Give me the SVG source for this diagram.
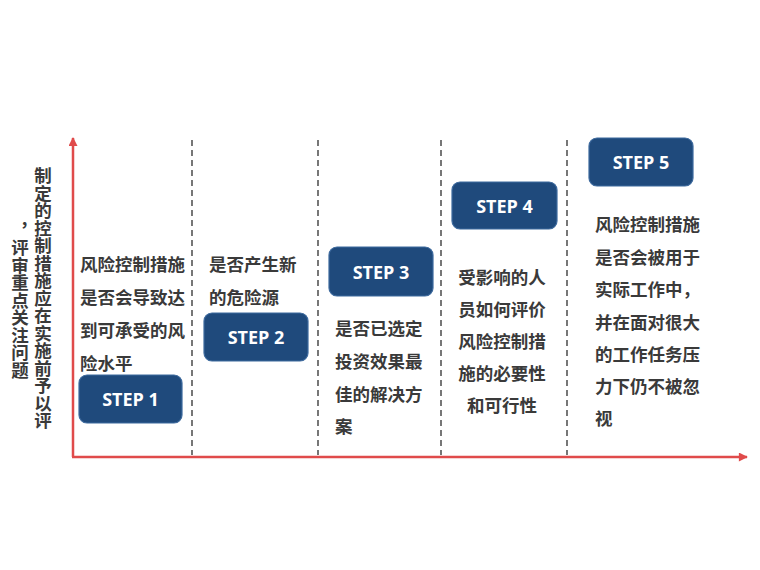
<svg xmlns="http://www.w3.org/2000/svg" width="760" height="570" viewBox="0 0 760 570">
<defs>
<marker id="arr" viewBox="0 0 10 10" refX="9" refY="5" markerWidth="10" markerHeight="9" orient="auto" markerUnits="userSpaceOnUse">
<path d="M0,0 L10,5 L0,10 z" fill="#e04b4b"/>
</marker>
<style>
.axis{stroke:#e04b4b;stroke-width:2.5;fill:none}
.dash{stroke:#555;stroke-width:1.6;stroke-dasharray:6 4;fill:none}
.box{fill:#1f4a7c;stroke:#3d6a9e;stroke-width:1.2}
.lbl{font-family:"Open Sans","Liberation Sans",sans-serif;font-weight:bold;font-size:18px;fill:#fff;text-anchor:middle;dominant-baseline:central}
.t{font-family:"Noto Sans CJK SC",sans-serif;font-weight:bold;font-size:17.5px;fill:#3a3a3a;dominant-baseline:central}
.c{text-anchor:middle}
.v{font-family:"Noto Sans CJK SC",sans-serif;font-weight:bold;font-size:17.5px;fill:#3a3a3a;writing-mode:vertical-rl;text-anchor:middle}
</style>
</defs>
<g id="connectors">
<line class="axis" x1="73" y1="457" x2="73" y2="138" marker-end="url(#arr)"/>
<line class="axis" x1="72" y1="457" x2="747" y2="457" marker-end="url(#arr)"/>
<line class="dash" x1="192" y1="140" x2="192" y2="455"/>
<line class="dash" x1="318" y1="140" x2="318" y2="455"/>
<line class="dash" x1="441" y1="140" x2="441" y2="455"/>
<line class="dash" x1="567" y1="140" x2="567" y2="455"/>
</g>
<g id="yaxis-label">
<text class="v" x="43" y="298">制定的控制措施应在实施前予以评</text>
<text class="v" x="20" y="300">，评审重点关注问题</text>
</g>
<g id="step1">
<rect class="box" x="79" y="375" width="103" height="48" rx="8"/>
<text class="lbl" x="130.5" y="399">STEP 1</text>
<text class="t" x="80" y="263">风险控制措施</text>
<text class="t" x="80" y="296">是否会导致达</text>
<text class="t" x="80" y="329">到可承受的风</text>
<text class="t" x="80" y="362">险水平</text>
</g>
<g id="step2">
<rect class="box" x="204" y="313" width="104" height="48" rx="8"/>
<text class="lbl" x="256" y="337">STEP 2</text>
<text class="t" x="209" y="263">是否产生新</text>
<text class="t" x="209" y="296">的危险源</text>
</g>
<g id="step3">
<rect class="box" x="329" y="247" width="104" height="49" rx="8"/>
<text class="lbl" x="381" y="271.5">STEP 3</text>
<text class="t" x="335" y="327">是否已选定</text>
<text class="t" x="335" y="360">投资效果最</text>
<text class="t" x="335" y="393">佳的解决方</text>
<text class="t" x="335" y="425">案</text>
</g>
<g id="step4">
<rect class="box" x="452" y="182" width="105" height="47" rx="8"/>
<text class="lbl" x="504.5" y="205.5">STEP 4</text>
<text class="t c" x="502" y="276">受影响的人</text>
<text class="t c" x="502" y="308">员如何评价</text>
<text class="t c" x="502" y="340">风险控制措</text>
<text class="t c" x="502" y="372">施的必要性</text>
<text class="t c" x="502" y="404">和可行性</text>
</g>
<g id="step5">
<rect class="box" x="589" y="138" width="104" height="48" rx="8"/>
<text class="lbl" x="641" y="162">STEP 5</text>
<text class="t" x="595" y="223">风险控制措施</text>
<text class="t" x="595" y="256">是否会被用于</text>
<text class="t" x="595" y="288">实际工作中，</text>
<text class="t" x="595" y="321">并在面对很大</text>
<text class="t" x="595" y="353">的工作任务压</text>
<text class="t" x="595" y="385">力下仍不被忽</text>
<text class="t" x="595" y="417">视</text>
</g>
</svg>
